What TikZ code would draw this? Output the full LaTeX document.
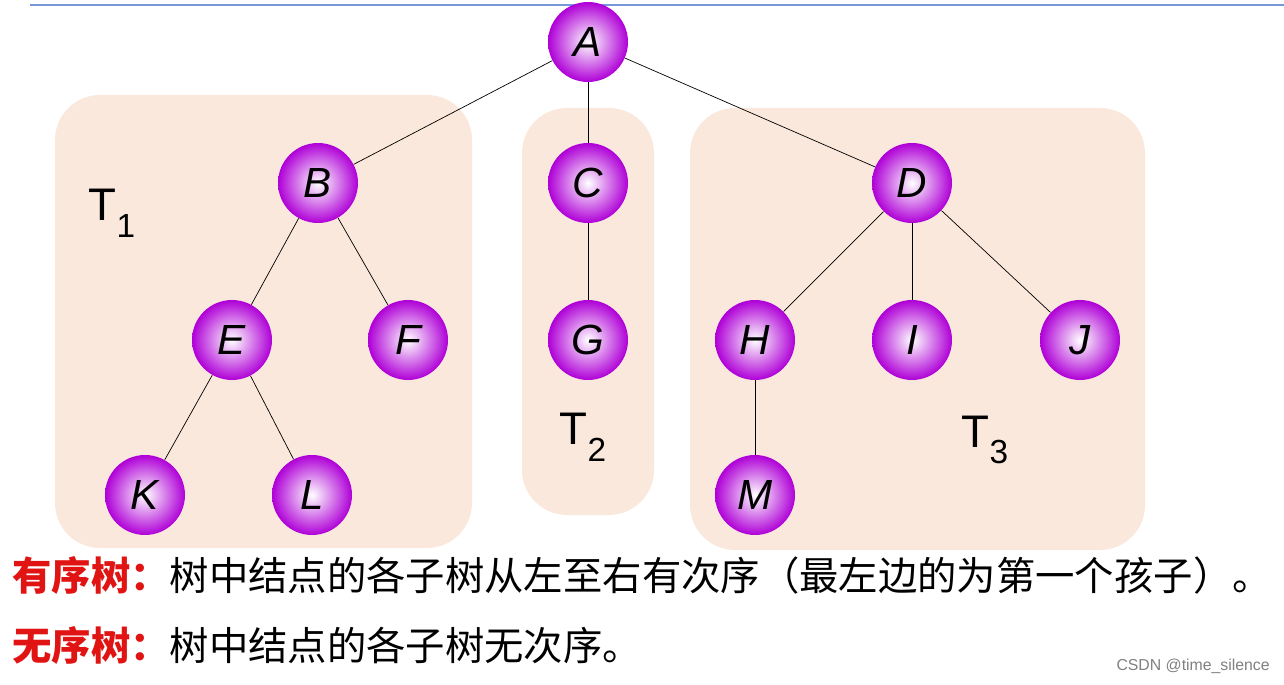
\documentclass[tikz,border=0pt]{standalone}
\usepackage{fontspec}
\setmainfont{Liberation Sans}
\newfontfamily\cjk{Noto Sans CJK SC}
\definecolor{peach}{RGB}{250,232,220}
\definecolor{ballpurple}{RGB}{175,0,215}
\definecolor{titlered}{RGB}{225,20,20}
\definecolor{rulerblue}{RGB}{120,150,220}
\begin{document}
\begin{tikzpicture}[x=0.02cm,y=-0.02cm,
  ball/.style={circle,minimum size=1.6cm,inner sep=0pt,inner color=white,outer color=ballpurple,
    font=\fontsize{24}{24}\selectfont\itshape},
  panel/.style={fill=peach,rounded corners=0.9cm},
  tlabel/.style={font=\fontsize{26}{26}\selectfont}]
\useasboundingbox (0,0) rectangle (1284,685);
% background panels
\fill[panel] (55,95) rectangle (472,548);
\fill[panel] (522,108) rectangle (654,515);
\fill[panel] (690,108) rectangle (1145,550);
\draw[rulerblue,line width=0.6pt] (30,5) -- (1284,5);
% nodes
\node[ball] (A) at (588,42) {A};
\node[ball] (B) at (318,183) {B};
\node[ball] (C) at (588,183) {C};
\node[ball] (D) at (912,183) {D};
\node[ball] (E) at (232,340) {E};
\node[ball] (F) at (408,340) {F};
\node[ball] (G) at (588,340) {G};
\node[ball] (H) at (755,340) {H};
\node[ball] (I) at (912,340) {I};
\node[ball] (J) at (1080,340) {J};
\node[ball] (K) at (145,495) {K};
\node[ball] (L) at (312,495) {L};
\node[ball] (M) at (755,495) {M};
% edges
\foreach \p/\c in {A/B,A/C,A/D,B/E,B/F,C/G,D/H,D/I,D/J,E/K,E/L,H/M}
  \draw (\p) -- (\c);
% subtree labels
\node[tlabel] (t1) at (112,213) {T\raisebox{-0.7ex}{\fontsize{19}{19}\selectfont 1}};
\node[tlabel] (t2) at (583,437) {T\raisebox{-0.7ex}{\fontsize{19}{19}\selectfont 2}};
\node[tlabel] (t3) at (985,440) {T\raisebox{-0.7ex}{\fontsize{19}{19}\selectfont 3}};
% text
\node[anchor=west,font=\fontsize{22.4}{22.4}\selectfont\cjk,inner sep=0pt] (ordered) at (12,575)
  {\textcolor{titlered}{\bfseries 有序树：}树中结点的各子树从左至右有次序（最左边的为第一个孩子）。};
\node[anchor=west,font=\fontsize{22.4}{22.4}\selectfont\cjk,inner sep=0pt] (unordered) at (12,645)
  {\textcolor{titlered}{\bfseries 无序树：}树中结点的各子树无次序。};
\node[anchor=east,font=\fontsize{9}{9}\selectfont,text=gray,inner sep=0pt] (mark) at (1270,666) {CSDN @time\_silence};
\end{tikzpicture}
\end{document}
